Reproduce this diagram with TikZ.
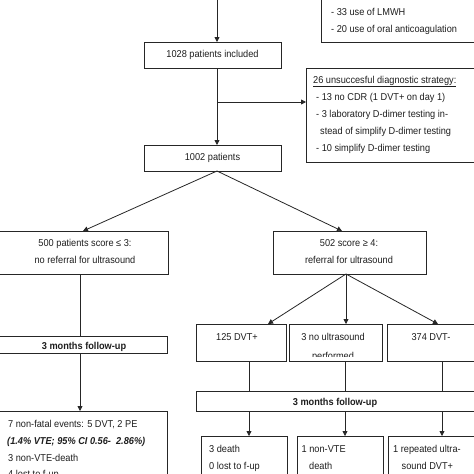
\documentclass[tikz,border=0pt]{standalone}
\usepackage{fontspec}
\setmainfont{Liberation Sans}[FakeStretch=0.92]
\usetikzlibrary{arrows.meta}
\definecolor{linec}{HTML}{262626}
\definecolor{textc}{HTML}{1E1E1E}
\begin{document}
\begin{tikzpicture}[x=1pt,y=-1pt,
  box/.style={draw=linec, line width=0.8pt, inner sep=0pt, outer sep=0pt, anchor=north west},
  conn/.style={draw=linec, line width=0.8pt},
  arr/.style={conn, -{Triangle[length=5pt,width=5pt]}},
  txt/.style={anchor=base west, inner sep=0pt, text=textc, font=\fontsize{10}{12}\selectfont},
  ctxt/.style={txt, anchor=base},
  btxt/.style={ctxt, font=\fontsize{10}{12}\selectfont\bfseries}]
\useasboundingbox (0,0) rectangle (474,474);
% boxes
\node[box, minimum width=200pt, minimum height=82pt] (topr) at (321,-40) {};
\node[box, minimum width=137pt, minimum height=26pt] (inc) at (144,42) {};
\node[box, minimum width=200pt, minimum height=94pt] (uns) at (306,68) {};
\node[box, minimum width=137pt, minimum height=26pt] (pts) at (144,145) {};
\node[box, minimum width=178pt, minimum height=43pt] (low) at (-10,231) {};
\node[box, minimum width=153pt, minimum height=43pt] (high) at (273,231) {};
\node[box, minimum width=177pt, minimum height=17pt] (fuL) at (-10,336) {};
\node[box, minimum width=177pt, minimum height=80pt] (res) at (-10,411) {};
\node[box, minimum width=90pt, minimum height=37pt] (dvtp) at (196,324) {};
\node[box, minimum width=93pt, minimum height=37pt] (nous) at (289,324) {};
\node[box, minimum width=120pt, minimum height=37pt] (dvtm) at (387,324) {};
\node[box, minimum width=300pt, minimum height=20pt] (fuR) at (196,391) {};
\node[box, minimum width=86pt, minimum height=60pt] (bA) at (201,436) {};
\node[box, minimum width=86pt, minimum height=60pt] (bB) at (297,436) {};
\node[box, minimum width=120pt, minimum height=60pt] (bC) at (388,436) {};
% texts
\node[txt] (t1) at (331,15) {- 33 use of LMWH};
\node[txt] (t2) at (331,32) {- 20 use of oral anticoagulation};
\node[ctxt] (t3) at (212.5,57) {1028 patients included};
\node[txt] (t4) at (313,83) {\underline{26 unsuccesful diagnostic strategy:}};
\node[txt] (t5) at (316,100) {- 13 no CDR (1 DVT+ on day 1)};
\node[txt] (t6) at (316,117) {- 3 laboratory D-dimer testing in-};
\node[txt] (t7) at (320,134) {stead of simplify D-dimer testing};
\node[txt] (t8) at (316,151) {- 10 simplify D-dimer testing};
\node[ctxt] (t9) at (212.5,160) {1002 patients};
\node[ctxt] (t10) at (85,246) {500 patients score ≤ 3:};
\node[ctxt] (t11) at (85,263) {no referral for ultrasound};
\node[ctxt] (t12) at (349,246) {502 score ≥ 4:};
\node[ctxt] (t13) at (349,263) {referral for ultrasound};
\node[btxt] (t14) at (84,349.5) {3 months follow-up};
\node[ctxt] (t15) at (237,340.5) {125 DVT+};
\node[ctxt] (t16) at (333,340.5) {3 no ultrasound};
\begin{scope}
\clip (289,345) rectangle (382,356.5);
\node[ctxt] (t17) at (333,359) {performed};
\end{scope}
\node[ctxt] (t18) at (431,340.5) {374 DVT-};
\node[btxt] (t19) at (335,405) {3 months follow-up};
\node[txt] (t20) at (209,452) {3 death};
\node[txt] (t21) at (209,469) {0 lost to f-up};
\node[txt] (t22) at (301.5,452) {1 non-VTE};
\node[txt] (t23) at (309,469) {death};
\node[txt] (t24) at (393,452) {1 repeated ultra-};
\node[txt] (t25) at (401.5,469) {sound DVT+};
\node[txt] (t26) at (8,427.5) {7 non-fatal events: 5 DVT, 2 PE};
\node[txt, font=\fontsize{10}{12}\selectfont\bfseries\itshape] (t27) at (7,444.5) {(1.4\% VTE; 95\% CI 0.56-\ \ 2.86\%)};
\node[txt] (t28) at (8,461) {3 non-VTE-death};
\node[txt] (t29) at (8,477.5) {4 lost to f-up};
% connectors
\coordinate (topin) at (217,-5);
\draw[arr] (topin) -- (topin |- inc.north);
\draw[arr] (topin |- inc.south) -- (topin |- pts.north);
\coordinate (br) at (217,102);
\draw[arr] (br) -- (br -| uns.west);
\draw[arr] (topin |- pts.south) -- (83,0 |- low.north);
\draw[arr] (topin |- pts.south) -- (342,0 |- high.north);
\coordinate (hs) at (346,0 |- high.south);
\draw[arr] (hs) -- (268,0 |- dvtp.north);
\draw[arr] (hs) -- (hs |- nous.north);
\draw[arr] (hs) -- (438,0 |- dvtm.north);
\draw[conn] (80,0 |- low.south) -- (80,0 |- fuL.north);
\draw[arr] (80,0 |- fuL.south) -- (80,0 |- res.north);
\draw[conn] (249,0 |- dvtp.south) -- (249,0 |- fuR.north);
\draw[conn] (345,0 |- nous.south) -- (345,0 |- fuR.north);
\draw[conn] (442,0 |- dvtm.south) -- (442,0 |- fuR.north);
\draw[arr] (249,0 |- fuR.south) -- (249,0 |- bA.north);
\draw[arr] (345,0 |- fuR.south) -- (345,0 |- bB.north);
\draw[arr] (442,0 |- fuR.south) -- (442,0 |- bC.north);
\end{tikzpicture}
\end{document}
